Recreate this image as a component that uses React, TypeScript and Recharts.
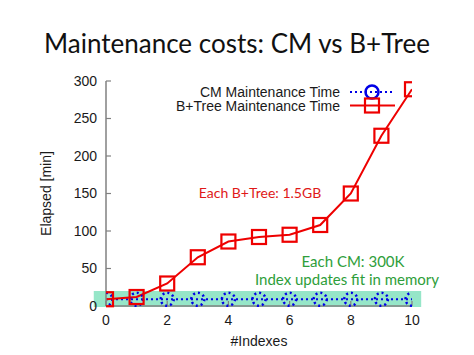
import React from 'react';
import { LineChart, Line, XAxis, YAxis, ReferenceArea, Legend } from 'recharts';

const indexes = [0, 1, 2, 3, 4, 5, 6, 7, 8, 9, 10];
const cmTime = [9, 9, 9, 9, 9, 9, 9, 9, 9, 9, 9];
const btreeTime = [9, 12, 30, 65, 86, 92, 95, 108, 150, 227, 289];
const xTicks = [0, 2, 4, 6, 8, 10];
const yTicks = [0, 50, 100, 150, 200, 250, 300];
const seriesNames = ['CM Maintenance Time', 'B+Tree Maintenance Time'];
const band = { x1: -0.4, x2: 10.3, y1: -1.3, y2: 20 };

const data = indexes.map((x, i) => ({ x, cm: cmTime[i], btree: btreeTime[i] }));

const BLUE = '#0000e6';
const RED = '#ee0000';
const GREEN_TXT = '#2e9e3a';
const AXIS = '#808080';
const TICK_FONT = { fontFamily: '"Liberation Sans", Arial, sans-serif', fontSize: 14, fill: '#1a1a1a' };

const Square = (props: any) => {
  const { cx, cy, index } = props;
  if (cx == null || cy == null) return <g key={`sq-${index}`} />;
  return <rect key={`sq-${index}`} x={cx - 7} y={cy - 7} width={14} height={14} fill="none" stroke={RED} strokeWidth={2.2} />;
};

const LegendContent = () => (
  <svg width={280} height={32} style={{ display: 'block' }}>
    <g fontFamily='"Liberation Sans", Arial, sans-serif' fontSize={14} fill="#1a1a1a">
      <text x={200} y={10} textAnchor="end" dominantBaseline="central">{seriesNames[0]}</text>
      <text x={200} y={23.5} textAnchor="end" dominantBaseline="central">{seriesNames[1]}</text>
    </g>
    <line x1={210} x2={255} y1={10} y2={10} stroke={BLUE} strokeWidth={2} strokeDasharray="2 3" />
    <circle cx={232} cy={10} r={6.5} fill="none" stroke={BLUE} strokeWidth={2.5} />
    <line x1={210} x2={255} y1={23.5} y2={23.5} stroke={RED} strokeWidth={2} />
    <rect x={225} y={16.5} width={14} height={14} fill="none" stroke={RED} strokeWidth={2.2} />
  </svg>
);

export default function App() {
  return (
    <div style={{ position: 'absolute', left: 0, top: 0, width: 474, height: 355, background: '#fff' }}>
      <LineChart width={474} height={355} data={data} margin={{ top: 81, right: 62, bottom: 0, left: 0 }}>
        <XAxis
          dataKey="x"
          type="number"
          domain={[0, 10]}
          ticks={xTicks}
          allowDataOverflow
          height={49}
          axisLine={{ stroke: AXIS, strokeWidth: 1.5 }}
          tickLine={{ stroke: AXIS, strokeWidth: 1.2 }}
          tickSize={-5}
          tickMargin={14}
          tick={TICK_FONT}
          label={{ value: '#Indexes', position: 'insideBottom', offset: 9, style: TICK_FONT }}
        />
        <XAxis
          xAxisId="top"
          orientation="top"
          type="number"
          domain={[0, 10]}
          ticks={xTicks}
          height={0}
          axisLine={{ stroke: AXIS, strokeWidth: 1.5 }}
          tickLine={{ stroke: AXIS, strokeWidth: 1.2 }}
          tickSize={-5}
          tick={false}
        />
        <YAxis
          type="number"
          domain={[0, 300]}
          ticks={yTicks}
          width={106}
          axisLine={{ stroke: AXIS, strokeWidth: 1.5 }}
          tickLine={{ stroke: AXIS, strokeWidth: 1.2 }}
          tickSize={-5}
          tickMargin={14}
          tick={TICK_FONT}
          label={{ value: 'Elapsed [min]', angle: -90, position: 'center', dx: -7, style: TICK_FONT }}
        />
        <YAxis
          yAxisId="right"
          orientation="right"
          type="number"
          domain={[0, 300]}
          ticks={yTicks}
          width={0}
          axisLine={{ stroke: AXIS, strokeWidth: 1.5 }}
          tickLine={{ stroke: AXIS, strokeWidth: 1.2 }}
          tickSize={-5}
          tick={false}
        />
        <Line
          dataKey="cm"
          name={seriesNames[0]}
          stroke={BLUE}
          strokeWidth={2}
          strokeDasharray="2 3"
          dot={{ r: 6.5, stroke: BLUE, strokeWidth: 2.5, fill: 'none' }}
          isAnimationActive={false}
        />
        <Line
          dataKey="btree"
          name={seriesNames[1]}
          stroke={RED}
          strokeWidth={2}
          dot={Square}
          isAnimationActive={false}
        />
        <ReferenceArea
          x1={band.x1}
          x2={band.x2}
          y1={band.y1}
          y2={band.y2}
          ifOverflow="visible"
          fill="rgb(0,195,122)"
          fillOpacity={0.41}
          stroke="none"
        />
        <Legend
          layout="horizontal"
          verticalAlign="middle"
          align="center"
          content={<LegendContent />}
          wrapperStyle={{ position: 'absolute', top: 82, left: 140, width: 280, height: 32 }}
        />
      </LineChart>
      <div style={{ position: 'absolute', left: 0, top: 28, width: 474, textAlign: 'center', fontFamily: 'Lato, "Open Sans", sans-serif', fontSize: 26, lineHeight: '30px', color: '#111', whiteSpace: 'nowrap' }}>
        Maintenance costs: CM vs B+Tree
      </div>
      <div style={{ position: 'absolute', left: 260, top: 193, transform: 'translate(-50%,-50%)', fontFamily: 'Lato, sans-serif', fontSize: 14, lineHeight: '14px', color: '#e01818', whiteSpace: 'nowrap' }}>
        Each B+Tree: 1.5GB
      </div>
      <div style={{ position: 'absolute', left: 353, top: 261, transform: 'translate(-50%,-50%)', fontFamily: 'Lato, sans-serif', fontSize: 15, lineHeight: '15px', color: GREEN_TXT, whiteSpace: 'nowrap' }}>
        Each CM: 300K
      </div>
      <div style={{ position: 'absolute', left: 252, top: 268, width: 190, height: 22, background: '#fff', display: 'flex', alignItems: 'center', justifyContent: 'center', fontFamily: 'Lato, sans-serif', fontSize: 15, lineHeight: '15px', color: GREEN_TXT, whiteSpace: 'nowrap' }}>
        Index updates fit in memory
      </div>
    </div>
  );
}
